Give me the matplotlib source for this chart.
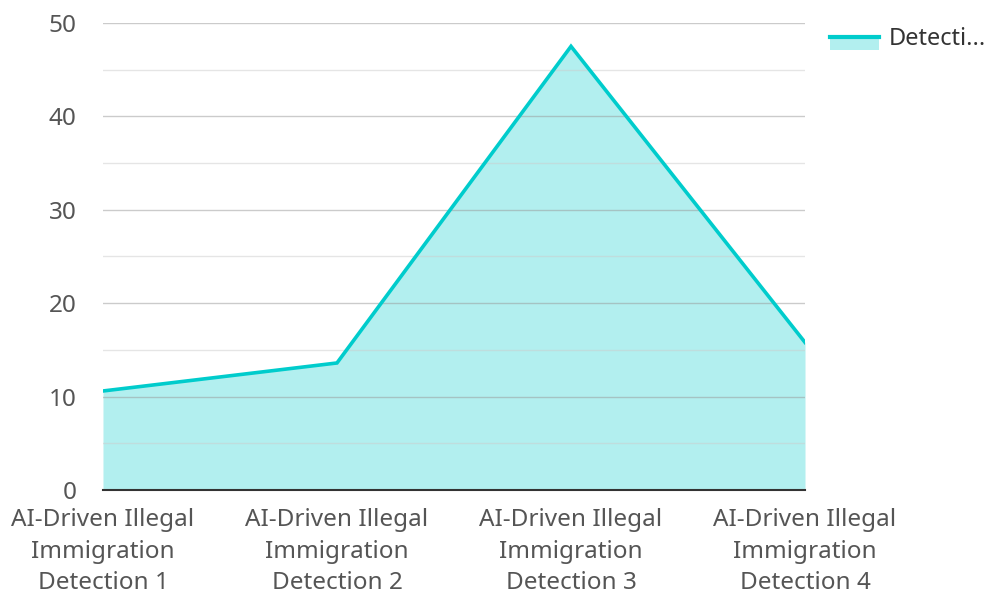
import matplotlib
matplotlib.use("Agg")
import matplotlib.pyplot as plt
from matplotlib.legend_handler import HandlerBase
from matplotlib.patches import Rectangle
from matplotlib.lines import Line2D
import numpy as np

plt.rcParams['font.family'] = ['Noto Sans', 'DejaVu Sans']

categories = ['AI-Driven Illegal\nImmigration\nDetection 1',
              'AI-Driven Illegal\nImmigration\nDetection 2',
              'AI-Driven Illegal\nImmigration\nDetection 3',
              'AI-Driven Illegal\nImmigration\nDetection 4']
values = [10.6, 13.6, 47.5, 15.8]
series_name = 'Detecti...'

line_color = '#00cccc'
fill_color = '#b2efef'
text_color = '#555555'


class AreaHandler(HandlerBase):
    def create_artists(self, legend, orig_handle, xdescent, ydescent, width, height, fontsize, trans):
        y_line = -ydescent + height * 0.5
        rect = Rectangle((-xdescent, y_line - 9.5), width, 9.5,
                         facecolor=fill_color, edgecolor='none', transform=trans)
        ln = Line2D([-xdescent, -xdescent + width], [y_line] * 2,
                    color=line_color, lw=3, transform=trans)
        return [rect, ln]


fig = plt.figure(figsize=(9.92, 5.94), dpi=100)
ax = fig.add_axes([0.1038, 0.1751, 0.8115 - 0.1038, 0.9613 - 0.1751])

x = np.arange(len(values))
ax.fill_between(x, values, 0, color=fill_color, lw=0, zorder=1)
ax.plot(x, values, color=line_color, lw=2.6, zorder=4, solid_joinstyle='miter')

ax.set_xlim(0, len(values) - 1)
ax.set_ylim(0, 50)
ax.set_yticks(np.arange(0, 51, 10))
ax.set_yticks(np.arange(5, 50, 10), minor=True)
ax.grid(True, which='major', axis='y', color='#999999', alpha=0.5, lw=1, zorder=2)
ax.grid(True, which='minor', axis='y', color='#cccccc', alpha=0.5, lw=1, zorder=2)
ax.set_axisbelow(False)

ax.set_xticks(x)
ax.set_xticklabels(categories, linespacing=1.42)
for lbl in ax.get_xticklabels():
    lbl.set_horizontalalignment('center')

for s in ['top', 'right', 'left']:
    ax.spines[s].set_visible(False)
ax.spines['bottom'].set_color('#333333')
ax.spines['bottom'].set_linewidth(1.5)
ax.spines['bottom'].set_zorder(5)

ax.tick_params(axis='both', which='both', length=0, labelsize=17.5, colors=text_color, pad=13)
ax.tick_params(axis='y', pad=19)

leg = fig.legend(handles=[Rectangle((0, 0), 1, 1)], labels=[series_name],
                 handler_map={Rectangle: AreaHandler()},
                 loc='upper left', bbox_to_anchor=(0.815, 0.99), frameon=False,
                 fontsize=17, handlelength=2.1, handleheight=0.8, handletextpad=0.42,
                 labelcolor='#333333')

fig.savefig('out.png', dpi=100)
